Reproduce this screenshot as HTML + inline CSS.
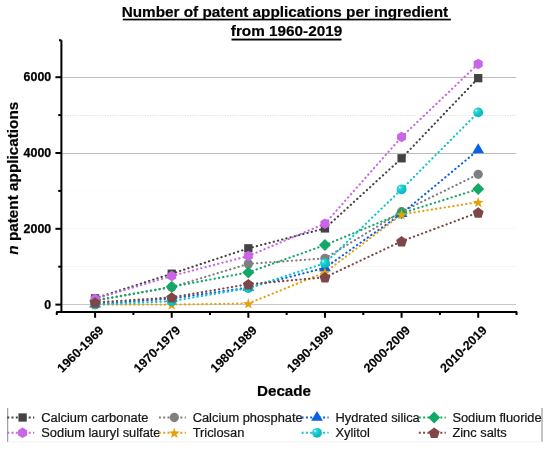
<!DOCTYPE html>
<html><head><meta charset="utf-8"><style>
html,body{margin:0;padding:0;background:#fff;}
body{width:550px;height:451px;position:relative;overflow:hidden;font-family:"Liberation Sans",sans-serif;}
svg{will-change:transform;}
</style></head><body>
<svg width="550" height="451" viewBox="0 0 550 451" style="position:absolute;left:0;top:0">
<defs><radialGradient id="ballg" cx="0.35" cy="0.33" r="0.7" fx="0.3" fy="0.3"><stop offset="0" stop-color="#e8ffff"/><stop offset="0.22" stop-color="#30d8dc"/><stop offset="0.6" stop-color="#10c4c8"/><stop offset="1" stop-color="#0cb4b8"/></radialGradient></defs>
<line x1="62.4" y1="266.5" x2="516.2" y2="266.5" stroke="#e8e8e8" stroke-width="1" stroke-dasharray="1 1.5"/>
<line x1="62.4" y1="190.5" x2="516.2" y2="190.5" stroke="#f7f7f7" stroke-width="1" stroke-dasharray="1 1.5"/>
<line x1="62.4" y1="115.5" x2="516.2" y2="115.5" stroke="#dcdcdc" stroke-width="1" stroke-dasharray="1 1.5"/>
<line x1="62.4" y1="304.5" x2="516.2" y2="304.5" stroke="#c8c8c8" stroke-width="1"/>
<line x1="62.4" y1="228.5" x2="516.2" y2="228.5" stroke="#f9f9f9" stroke-width="1"/>
<line x1="62.4" y1="153.5" x2="516.2" y2="153.5" stroke="#bcbcbc" stroke-width="1"/>
<line x1="62.4" y1="77.5" x2="516.2" y2="77.5" stroke="#bcbcbc" stroke-width="1"/>
<g stroke="#000" stroke-width="2" fill="none">
<line x1="61.4" y1="40.2" x2="61.4" y2="313"/>
<line x1="56.2" y1="312" x2="517.2" y2="312"/>
<line x1="55.4" y1="304.6" x2="61.4" y2="304.6"/>
<line x1="55.4" y1="228.8" x2="61.4" y2="228.8"/>
<line x1="55.4" y1="153" x2="61.4" y2="153"/>
<line x1="55.4" y1="77.2" x2="61.4" y2="77.2"/>
<line x1="58.2" y1="266.7" x2="61.4" y2="266.7"/>
<line x1="58.2" y1="190.9" x2="61.4" y2="190.9"/>
<line x1="58.2" y1="115.1" x2="61.4" y2="115.1"/>
<line x1="59" y1="40.2" x2="61.4" y2="40.2"/>
<line x1="95.1" y1="312" x2="95.1" y2="317.8"/>
<line x1="171.72" y1="312" x2="171.72" y2="317.8"/>
<line x1="248.34" y1="312" x2="248.34" y2="317.8"/>
<line x1="324.96" y1="312" x2="324.96" y2="317.8"/>
<line x1="401.58" y1="312" x2="401.58" y2="317.8"/>
<line x1="478.2" y1="312" x2="478.2" y2="317.8"/>
<line x1="56.79" y1="312" x2="56.79" y2="315"/>
<line x1="133.41" y1="312" x2="133.41" y2="315"/>
<line x1="210.03" y1="312" x2="210.03" y2="315"/>
<line x1="286.65" y1="312" x2="286.65" y2="315"/>
<line x1="363.27" y1="312" x2="363.27" y2="315"/>
<line x1="439.89" y1="312" x2="439.89" y2="315"/>
<line x1="516.51" y1="312" x2="516.51" y2="315"/>
</g>
<path d="M95.1 298.35L171.72 273.71M171.72 273.71L248.34 248.32M248.34 248.32L324.96 228.42M324.96 228.42L401.58 158.31M401.58 158.31L478.2 78.15" fill="none" stroke="#434343" stroke-width="2.1" stroke-linecap="round" stroke-dasharray="0.3 4.06"/>
<path d="M95.1 300.81L171.72 287.17M171.72 287.17L248.34 263.86M248.34 263.86L324.96 258.36M324.96 258.36L401.58 211.75M401.58 211.75L478.2 174.3" fill="none" stroke="#7f7f7f" stroke-width="2.1" stroke-linecap="round" stroke-dasharray="0.3 4.06"/>
<path d="M95.1 304.22L171.72 298.54M171.72 298.54L248.34 287.55M248.34 287.55L324.96 267.84M324.96 267.84L401.58 213.64M401.58 213.64L478.2 149.97" fill="none" stroke="#0a60e6" stroke-width="2.1" stroke-linecap="round" stroke-dasharray="0.3 4.06"/>
<path d="M95.1 300.43L171.72 286.79M171.72 286.79L248.34 272.38M248.34 272.38L324.96 245.1M324.96 245.1L401.58 213.26M401.58 213.26L478.2 189.12" fill="none" stroke="#12a865" stroke-width="2.1" stroke-linecap="round" stroke-dasharray="0.3 4.06"/>
<path d="M95.1 298.92L171.72 275.99M171.72 275.99L248.34 256.01M248.34 256.01L324.96 223.68M324.96 223.68L401.58 137.01M401.58 137.01L478.2 63.94" fill="none" stroke="#c866e6" stroke-width="2.1" stroke-linecap="round" stroke-dasharray="0.3 4.06"/>
<path d="M95.1 304.6L171.72 304.6M171.72 304.6L248.34 303.46M248.34 303.46L324.96 272.38M324.96 272.38L401.58 214.4M401.58 214.4L478.2 202.12" fill="none" stroke="#e6a00e" stroke-width="2.1" stroke-linecap="round" stroke-dasharray="0.3 4.06"/>
<path d="M95.1 304.6L171.72 301.19M171.72 301.19L248.34 288.11M248.34 288.11L324.96 263.21M324.96 263.21L401.58 189.31M401.58 189.31L478.2 112.41" fill="none" stroke="#10c4c8" stroke-width="2.1" stroke-linecap="round" stroke-dasharray="0.3 4.06"/>
<path d="M95.1 302.52L171.72 297.4M171.72 297.4L248.34 284.21M248.34 284.21L324.96 277.31M324.96 277.31L401.58 241.31M401.58 241.31L478.2 212.5" fill="none" stroke="#7e4646" stroke-width="2.1" stroke-linecap="round" stroke-dasharray="0.3 4.06"/>
<rect x="90.95" y="294.2" width="8.3" height="8.3" fill="#434343"/>
<rect x="167.57" y="269.56" width="8.3" height="8.3" fill="#434343"/>
<rect x="244.19" y="244.17" width="8.3" height="8.3" fill="#434343"/>
<rect x="320.81" y="224.27" width="8.3" height="8.3" fill="#434343"/>
<rect x="397.43" y="154.16" width="8.3" height="8.3" fill="#434343"/>
<rect x="474.05" y="74" width="8.3" height="8.3" fill="#434343"/>
<circle cx="95.1" cy="300.81" r="4.65" fill="#7f7f7f"/>
<circle cx="171.72" cy="287.17" r="4.65" fill="#7f7f7f"/>
<circle cx="248.34" cy="263.86" r="4.65" fill="#7f7f7f"/>
<circle cx="324.96" cy="258.36" r="4.65" fill="#7f7f7f"/>
<circle cx="401.58" cy="211.75" r="4.65" fill="#7f7f7f"/>
<circle cx="478.2" cy="174.3" r="4.65" fill="#7f7f7f"/>
<polygon points="95.1,297.62 101,307.52 89.2,307.52" fill="#0a60e6"/>
<polygon points="171.72,291.94 177.62,301.84 165.82,301.84" fill="#0a60e6"/>
<polygon points="248.34,280.94 254.24,290.85 242.44,290.85" fill="#0a60e6"/>
<polygon points="324.96,261.24 330.86,271.14 319.06,271.14" fill="#0a60e6"/>
<polygon points="401.58,207.04 407.48,216.94 395.68,216.94" fill="#0a60e6"/>
<polygon points="478.2,143.37 484.1,153.27 472.3,153.27" fill="#0a60e6"/>
<polygon points="95.1,294.43 101.1,300.43 95.1,306.43 89.1,300.43" fill="#12a865"/>
<polygon points="171.72,280.79 177.72,286.79 171.72,292.79 165.72,286.79" fill="#12a865"/>
<polygon points="248.34,266.38 254.34,272.38 248.34,278.38 242.34,272.38" fill="#12a865"/>
<polygon points="324.96,239.1 330.96,245.1 324.96,251.1 318.96,245.1" fill="#12a865"/>
<polygon points="401.58,207.26 407.58,213.26 401.58,219.26 395.58,213.26" fill="#12a865"/>
<polygon points="478.2,183.12 484.2,189.12 478.2,195.12 472.2,189.12" fill="#12a865"/>
<polygon points="95.1,293.72 99.6,296.31 99.6,301.52 95.1,304.12 90.6,301.52 90.6,296.31" fill="#c866e6"/>
<polygon points="171.72,270.79 176.22,273.39 176.22,278.59 171.72,281.19 167.22,278.59 167.22,273.39" fill="#c866e6"/>
<polygon points="248.34,250.81 252.84,253.41 252.84,258.61 248.34,261.21 243.84,258.61 243.84,253.41" fill="#c866e6"/>
<polygon points="324.96,218.48 329.46,221.08 329.46,226.28 324.96,228.88 320.46,226.28 320.46,221.08" fill="#c866e6"/>
<polygon points="401.58,131.81 406.08,134.41 406.08,139.61 401.58,142.21 397.08,139.61 397.08,134.41" fill="#c866e6"/>
<polygon points="478.2,58.73 482.7,61.34 482.7,66.53 478.2,69.14 473.7,66.53 473.7,61.34" fill="#c866e6"/>
<polygon points="95.1,299.44 96.45,303.28 100.52,303.38 97.29,305.86 98.45,309.76 95.1,307.44 91.75,309.76 92.91,305.86 89.68,303.38 93.75,303.28" fill="#e6a00e"/>
<polygon points="171.72,299.44 173.07,303.28 177.14,303.38 173.91,305.86 175.07,309.76 171.72,307.44 168.37,309.76 169.53,305.86 166.3,303.38 170.37,303.28" fill="#e6a00e"/>
<polygon points="248.34,298.31 249.69,302.15 253.76,302.25 250.53,304.72 251.69,308.62 248.34,306.31 244.99,308.62 246.15,304.72 242.92,302.25 246.99,302.15" fill="#e6a00e"/>
<polygon points="324.96,267.23 326.31,271.07 330.38,271.17 327.15,273.64 328.31,277.54 324.96,275.23 321.61,277.54 322.77,273.64 319.54,271.17 323.61,271.07" fill="#e6a00e"/>
<polygon points="401.58,209.24 402.93,213.08 407,213.18 403.77,215.65 404.93,219.55 401.58,217.24 398.23,219.55 399.39,215.65 396.16,213.18 400.23,213.08" fill="#e6a00e"/>
<polygon points="478.2,196.96 479.55,200.8 483.62,200.9 480.39,203.37 481.55,207.27 478.2,204.96 474.85,207.27 476.01,203.37 472.78,200.9 476.85,200.8" fill="#e6a00e"/>
<circle cx="95.1" cy="304.6" r="4.9" fill="url(#ballg)"/>
<circle cx="171.72" cy="301.19" r="4.9" fill="url(#ballg)"/>
<circle cx="248.34" cy="288.11" r="4.9" fill="url(#ballg)"/>
<circle cx="324.96" cy="263.21" r="4.9" fill="url(#ballg)"/>
<circle cx="401.58" cy="189.31" r="4.9" fill="url(#ballg)"/>
<circle cx="478.2" cy="112.41" r="4.9" fill="url(#ballg)"/>
<polygon points="95.1,297.31 100.57,301.29 98.48,307.72 91.72,307.72 89.63,301.29" fill="#7e4646"/>
<polygon points="171.72,292.2 177.19,296.17 175.1,302.6 168.34,302.6 166.25,296.17" fill="#7e4646"/>
<polygon points="248.34,279.01 253.81,282.98 251.72,289.41 244.96,289.41 242.87,282.98" fill="#7e4646"/>
<polygon points="324.96,272.11 330.43,276.08 328.34,282.51 321.58,282.51 319.49,276.08" fill="#7e4646"/>
<polygon points="401.58,236.11 407.05,240.08 404.96,246.51 398.2,246.51 396.11,240.08" fill="#7e4646"/>
<polygon points="478.2,207.3 483.67,211.28 481.58,217.7 474.82,217.7 472.73,211.28" fill="#7e4646"/>
<g font-family="Liberation Sans, sans-serif" font-weight="bold" font-size="12" fill="#000" stroke="#000" stroke-width="0.25" text-anchor="end">
<text x="51.2" y="308.7" font-size="12.4">0</text>
<text x="51.2" y="232.9" font-size="12.4">2000</text>
<text x="51.2" y="157.1" font-size="12.4">4000</text>
<text x="51.2" y="81.3" font-size="12.4">6000</text>
<text font-size="12.5" stroke-width="0.15" transform="translate(104.5,331) rotate(-45)" x="0" y="0">1960-1969</text>
<text font-size="12.5" stroke-width="0.15" transform="translate(181.12,331) rotate(-45)" x="0" y="0">1970-1979</text>
<text font-size="12.5" stroke-width="0.15" transform="translate(257.74,331) rotate(-45)" x="0" y="0">1980-1989</text>
<text font-size="12.5" stroke-width="0.15" transform="translate(334.36,331) rotate(-45)" x="0" y="0">1990-1999</text>
<text font-size="12.5" stroke-width="0.15" transform="translate(410.98,331) rotate(-45)" x="0" y="0">2000-2009</text>
<text font-size="12.5" stroke-width="0.15" transform="translate(487.6,331) rotate(-45)" x="0" y="0">2010-2019</text>
</g>
<text font-family="Liberation Sans, sans-serif" font-weight="bold" font-size="15.2" stroke="#000" stroke-width="0.2" x="284.0" y="395.5" text-anchor="middle">Decade</text>
<text font-family="Liberation Sans, sans-serif" font-weight="bold" font-size="15.3" stroke="#000" stroke-width="0.2" transform="translate(17.6,178.2) rotate(-90)" text-anchor="middle"><tspan font-style="italic">n</tspan> patent applications</text>
<text font-family="Liberation Sans, sans-serif" font-weight="bold" font-size="15.3" stroke="#000" stroke-width="0.2" x="284.9" y="16.8" text-anchor="middle">Number of patent applications per ingredient</text>
<text font-family="Liberation Sans, sans-serif" font-weight="bold" font-size="15.3" stroke="#000" stroke-width="0.2" x="286.5" y="36.4" text-anchor="middle">from 1960-2019</text>
<rect x="122.8" y="18.7" width="328.1" height="1.7" fill="#000"/>
<rect x="231.5" y="38.6" width="110" height="1.9" fill="#000"/>
<line x1="7.7" y1="408" x2="7.7" y2="442" stroke="#8a8a8a" stroke-width="1"/>
<line x1="542" y1="408" x2="542" y2="442" stroke="#8a8a8a" stroke-width="1"/>
<line x1="7.7" y1="441.8" x2="542" y2="441.8" stroke="#f2f2f2" stroke-width="1"/>
<line x1="7.2" y1="417.5" x2="34.2" y2="417.5" stroke="#434343" stroke-width="2" stroke-dasharray="2 2.3"/>
<rect x="18.45" y="413.35" width="8.3" height="8.3" fill="#434343"/>
<text font-family="Liberation Sans, sans-serif" font-size="12.85" fill="#151515" stroke="#151515" stroke-width="0.22" x="41.3" y="421.6">Calcium carbonate</text>
<line x1="158.9" y1="417.5" x2="185.9" y2="417.5" stroke="#7f7f7f" stroke-width="2" stroke-dasharray="2 2.3"/>
<circle cx="174.3" cy="417.5" r="4.65" fill="#7f7f7f"/>
<text font-family="Liberation Sans, sans-serif" font-size="12.85" fill="#151515" stroke="#151515" stroke-width="0.22" x="192.7" y="421.6">Calcium phosphate</text>
<line x1="301.6" y1="417.5" x2="328.6" y2="417.5" stroke="#0a60e6" stroke-width="2" stroke-dasharray="2 2.3"/>
<polygon points="317,410.9 322.9,420.8 311.1,420.8" fill="#0a60e6"/>
<text font-family="Liberation Sans, sans-serif" font-size="12.85" fill="#151515" stroke="#151515" stroke-width="0.22" x="335.5" y="421.6">Hydrated silica</text>
<line x1="418.8" y1="417.5" x2="445.8" y2="417.5" stroke="#12a865" stroke-width="2" stroke-dasharray="2 2.3"/>
<polygon points="434.2,411.5 440.2,417.5 434.2,423.5 428.2,417.5" fill="#12a865"/>
<text font-family="Liberation Sans, sans-serif" font-size="12.85" fill="#151515" stroke="#151515" stroke-width="0.22" x="452.4" y="421.6">Sodium fluoride</text>
<line x1="7.2" y1="432.8" x2="34.2" y2="432.8" stroke="#c866e6" stroke-width="2" stroke-dasharray="2 2.3"/>
<polygon points="22.6,427.6 27.1,430.2 27.1,435.4 22.6,438 18.1,435.4 18.1,430.2" fill="#c866e6"/>
<text font-family="Liberation Sans, sans-serif" font-size="12.85" fill="#151515" stroke="#151515" stroke-width="0.22" x="41.3" y="436.9">Sodium lauryl sulfate</text>
<line x1="158.9" y1="432.8" x2="185.9" y2="432.8" stroke="#e6a00e" stroke-width="2" stroke-dasharray="2 2.3"/>
<polygon points="174.3,427.64 175.65,431.48 179.72,431.58 176.49,434.06 177.65,437.96 174.3,435.64 170.95,437.96 172.11,434.06 168.88,431.58 172.95,431.48" fill="#e6a00e"/>
<text font-family="Liberation Sans, sans-serif" font-size="12.85" fill="#151515" stroke="#151515" stroke-width="0.22" x="192.7" y="436.9">Triclosan</text>
<line x1="301.6" y1="432.8" x2="328.6" y2="432.8" stroke="#10c4c8" stroke-width="2" stroke-dasharray="2 2.3"/>
<circle cx="317" cy="432.8" r="4.9" fill="url(#ballg)"/>
<text font-family="Liberation Sans, sans-serif" font-size="12.85" fill="#151515" stroke="#151515" stroke-width="0.22" x="335.5" y="436.9">Xylitol</text>
<line x1="418.8" y1="432.8" x2="445.8" y2="432.8" stroke="#7e4646" stroke-width="2" stroke-dasharray="2 2.3"/>
<polygon points="434.2,427.6 439.67,431.57 437.58,438 430.82,438 428.73,431.57" fill="#7e4646"/>
<text font-family="Liberation Sans, sans-serif" font-size="12.85" fill="#151515" stroke="#151515" stroke-width="0.22" x="452.4" y="436.9">Zinc salts</text>
</svg>
</body></html>
